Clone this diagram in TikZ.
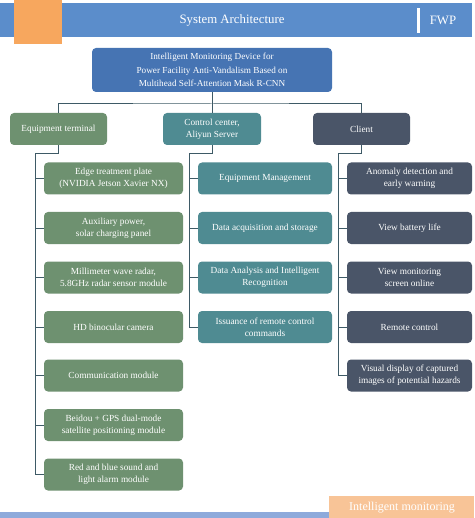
\documentclass[tikz,border=0pt]{standalone}
\usepackage{fontspec}
\setmainfont{Liberation Serif}
\definecolor{bannerblue}{HTML}{5B8DCB}
\definecolor{topor}{HTML}{F7A75E}
\definecolor{botor}{HTML}{F8C497}
\definecolor{botblue}{HTML}{8EAADB}
\definecolor{rootblue}{HTML}{4674B3}
\definecolor{eqgreen}{HTML}{6E9170}
\definecolor{ccteal}{HTML}{4F8B92}
\definecolor{clslate}{HTML}{4A5568}
\definecolor{wire}{HTML}{3E5A66}
\begin{document}
\begin{tikzpicture}[x=1pt,y=-1pt,
  box/.style={rounded corners=4pt,text=white,align=center,inner sep=0pt,
    font=\fontsize{9.3}{12}\selectfont},
  eqbox/.style={box,fill=eqgreen,minimum width=139pt,minimum height=32pt},
  ccbox/.style={box,fill=ccteal,minimum width=134pt,minimum height=32pt},
  clbox/.style={box,fill=clslate,minimum width=125pt,minimum height=32pt},
  wirel/.style={draw=wire,line width=1pt}]
\useasboundingbox (0,0) rectangle (474,518);
% banner
\fill[bannerblue] (0,3) rectangle (472,37);
\fill[topor] (14,0) rectangle (62,44);
\fill[white] (417,8) rectangle (420,33);
\node[text=white,font=\fontsize{12.8}{14}\selectfont] (title) at (232,20) {System Architecture};
\node[text=white,font=\fontsize{12.8}{14}\selectfont] (fwp) at (443,20) {FWP};
% bottom
\fill[botblue] (0,512) rectangle (329,518);
\fill[botor] (329,496) rectangle (474,518);
\node[text=white,font=\fontsize{12}{14}\selectfont] (im) at (402,508) {Intelligent monitoring};
% root
\node[box,fill=rootblue,minimum width=240pt,minimum height=44pt,font=\fontsize{9.2}{13.5}\selectfont] (root) at (212,70)
  {Intelligent Monitoring Device for\\Power Facility Anti-Vandalism Based on\\Multihead Self-Attention Mask R-CNN};
% level 1
\node[box,fill=eqgreen,minimum width=97pt,minimum height=32pt] (eq) at (58.5,129) {Equipment terminal};
\node[box,fill=ccteal,minimum width=98pt,minimum height=32pt] (cc) at (212,129) {Control center,\\Aliyun Server};
\node[box,fill=clslate,minimum width=97pt,minimum height=32pt] (cl) at (361.5,129) {Client};
% root connectors
\coordinate (rj) at (212,104);
\draw[wirel] (root.south) -- (rj);
\draw[wirel] (eq.north) |- (rj) -| (cl.north);
\draw[wirel] (rj) -- (cc.north);
% equipment children
\node[eqbox] (e1) at (113.5,178.5) {Edge treatment plate\\(NVIDIA Jetson Xavier NX)};
\node[eqbox] (e2) at (113.5,228) {Auxiliary power,\\solar charging panel};
\node[eqbox] (e3) at (113.5,277.5) {Millimeter wave radar,\\5.8GHz radar sensor module};
\node[eqbox] (e4) at (113.5,327) {HD binocular camera};
\node[eqbox] (e5) at (113.5,375.5) {Communication module};
\node[eqbox] (e6) at (113.5,425) {Beidou + GPS dual-mode\\satellite positioning module};
\node[eqbox] (e7) at (113.5,474.5) {Red and blue sound and\\light alarm module};
\coordinate (et) at (35,154);
\draw[wirel] (eq.south) |- (et) |- (e7.west);
\foreach \n in {e1,e2,e3,e4,e5,e6} \draw[wirel] (\n.west) -- (\n.west -| et);
% control center children
\node[ccbox] (c1) at (265,178.5) {Equipment Management};
\node[ccbox] (c2) at (265,228) {Data acquisition and storage};
\node[ccbox] (c3) at (265,277.5) {Data Analysis and Intelligent\\Recognition};
\node[ccbox] (c4) at (265,327) {Issuance of remote control\\commands};
\coordinate (ct) at (189,154);
\draw[wirel] (cc.south) |- (ct) |- (c4.west);
\foreach \n in {c1,c2,c3} \draw[wirel] (\n.west) -- (\n.west -| ct);
% client children
\node[clbox] (k1) at (409.5,178.5) {Anomaly detection and\\early warning};
\node[clbox] (k2) at (409.5,228) {View battery life};
\node[clbox] (k3) at (409.5,277.5) {View monitoring\\screen online};
\node[clbox] (k4) at (409.5,327) {Remote control};
\node[clbox] (k5) at (409.5,375.5) {Visual display of captured\\images of potential hazards};
\coordinate (kt) at (338,154);
\draw[wirel] (cl.south) |- (kt) |- (k5.west);
\foreach \n in {k1,k2,k3,k4} \draw[wirel] (\n.west) -- (\n.west -| kt);
\end{tikzpicture}
\end{document}
